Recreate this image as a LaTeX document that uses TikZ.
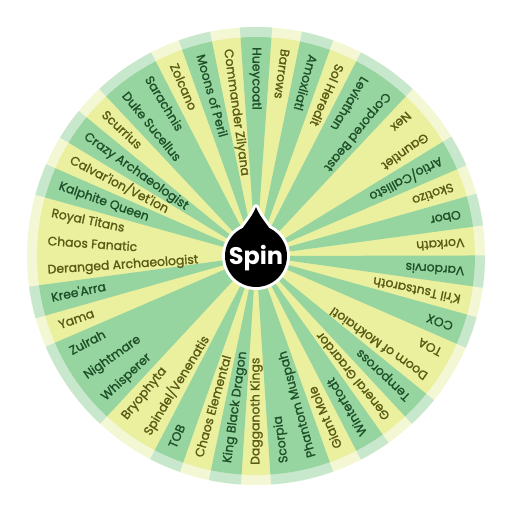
\documentclass[tikz,border=0pt]{standalone}
\usepackage{fontspec}
\setmainfont{Poppins}
\newfontfamily\wheelfont{Poppins}[FakeBold=1.3]
\usepackage{xcolor}
\usepackage{tikz}
\usetikzlibrary{positioning}
\definecolor{WheelG}{RGB}{150,212,160}
\definecolor{WheelY}{RGB}{234,240,158}
\definecolor{RimG}{RGB}{200,232,205}
\definecolor{RimY}{RGB}{244,247,212}
\definecolor{InkG}{RGB}{30,80,40}
\definecolor{InkY}{RGB}{90,90,20}
\begin{document}
\begin{tikzpicture}[x=1pt,y=1pt,
        lbl/.style={anchor=west,inner sep=0pt,font=\wheelfont\fontsize{12.4}{13}\selectfont,
                    text height=1.5ex,text depth=0.25ex},
        knob/.style={fill=black,draw=white,line width=6pt,line join=round},
        spintext/.style={text=white,font=\fontsize{24}{26}\selectfont\bfseries}
      ]
        \useasboundingbox (-256,-256) rectangle (256,256);
        % rim and wheel base
        \fill[RimY] (0,0) circle[radius=229];
        \fill[WheelY] (0,0) circle[radius=219];
        % segments and labels, clockwise from the top
        \foreach \name/\c [count=\i from 0] in {Hueycoatl/G,Barrows/Y,Amoxliatl/G,Sol Heredit/Y,
            Leviathan/G,Corpored Beast/G,Nex/Y,Gauntlet/Y,{Artio/Callisto}/G,Skotizo/Y,Obor/G,
            Vorkath/Y,Vardorvis/G,K'ril Tsutsaroth/Y,COX/G,TOA/Y,Doom of Mokhaiotl/Y,Tempoross/G,
            General Graardor/Y,Wintertodt/G,Giant Mole/Y,Phantom Muspah/G,Scorpia/G,
            Dagganoth Kings/Y,King Black Dragon/G,Chaos Elemental/Y,TOB/G,{Spindel/Venenatis}/Y,
            Bryophyta/Y,Whisperer/G,Nightmare/G,Zulrah/G,Yama/Y,Kree'Arra/G,
            Deranged Archaeologist/Y,Chaos Fanatic/Y,Royal Titans/Y,Kalphite Queen/G,
            {Calvar'ion/Vet'ion}/Y,Crazy Archaeologist/G,Scurrius/Y,Duke Sucellus/G,Sarachnis/G,
            Zolcano/Y,Moons of Peril/G,Commander Zilyana/Y}{
          \pgfmathsetmacro\a{90-\i*360/46}
          \if G\c
            \fill[RimG] (\a+4.05:219) -- (\a+4.05:229)
              arc[start angle=\a+4.05,end angle=\a-4.05,radius=229]
              -- (\a-4.05:219) arc[start angle=\a-4.05,end angle=\a+4.05,radius=219] -- cycle;
            \fill[WheelG] (0,0) -- (\a+4.05:219)
              arc[start angle=\a+4.05,end angle=\a-4.05,radius=219] -- cycle;
          \fi
          \node[lbl,text=Ink\c,rotate=\a+180] (seg\i) at (\a:209) {\name};
        }
        % spin button
        \draw[knob] (0,49) .. controls (-3,41) and (-9,34) .. (115:31)
          arc[start angle=115,end angle=425,radius=31]
          .. controls (9,34) and (3,41) .. cycle;
        \fill[black] (0,49) .. controls (-3,41) and (-9,34) .. (115:31)
          arc[start angle=115,end angle=425,radius=31]
          .. controls (9,34) and (3,41) .. cycle;
        \node[spintext] (spin) at (0,-2) {Spin};
      \end{tikzpicture}
\end{document}
